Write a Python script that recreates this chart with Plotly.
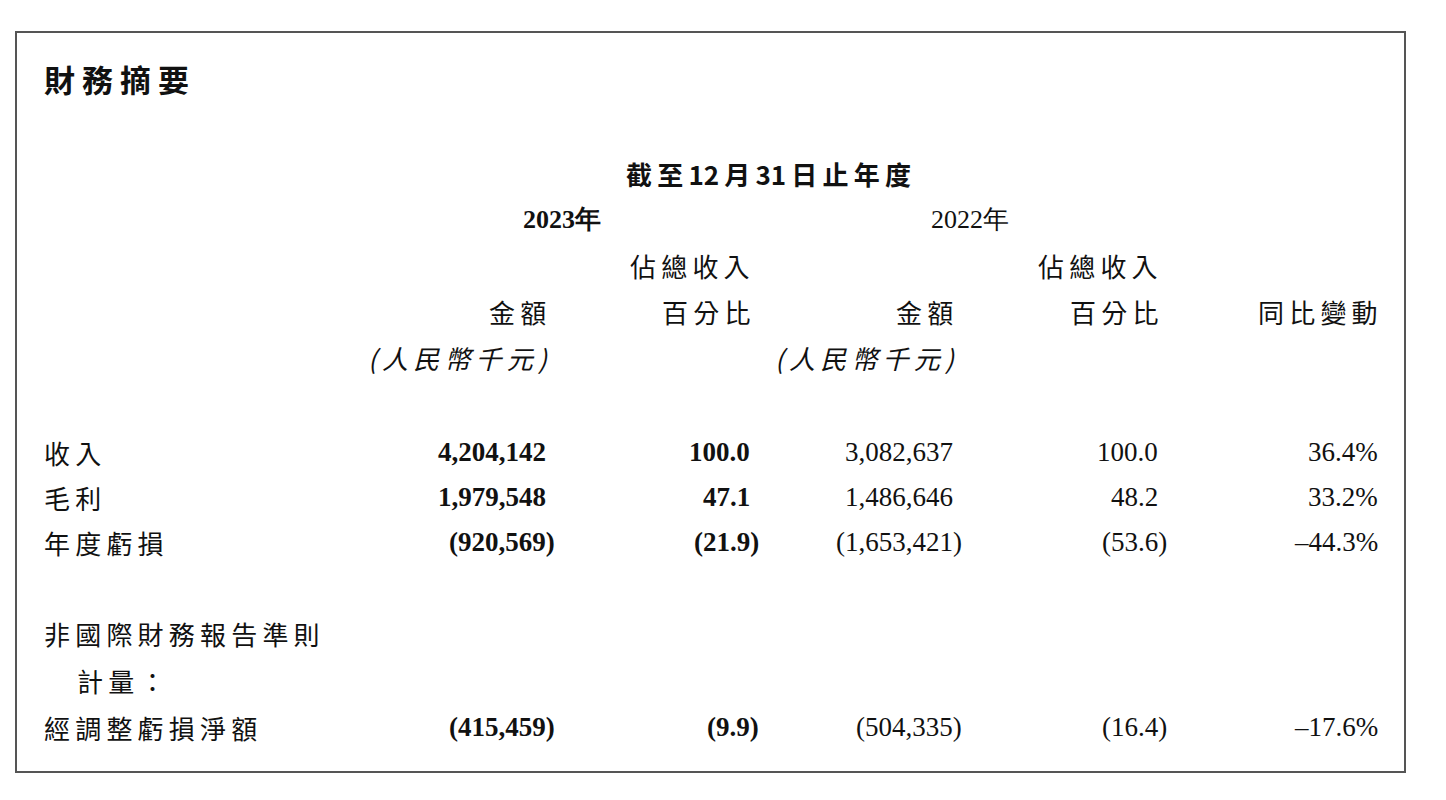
import plotly.graph_objects as go

title = "財務摘要"
period = "截至12月31日止年度"
years = ["2023年", "2022年"]
col_headers = ["金額", "佔總收入<br>百分比", "金額", "佔總收入<br>百分比", "同比變動"]
unit = "(人民幣千元)"
row_labels = ["收入", "毛利", "年度虧損", "非國際財務報告準則", "計量：", "經調整虧損淨額"]
rev_2023 = ["4,204,142", "1,979,548", "(920,569)", None, None, "(415,459)"]
pct_2023 = ["100.0", "47.1", "(21.9)", None, None, "(9.9)"]
rev_2022 = ["3,082,637", "1,486,646", "(1,653,421)", None, None, "(504,335)"]
pct_2022 = ["100.0", "48.2", "(53.6)", None, None, "(16.4)"]
yoy = ["36.4%", "33.2%", "–44.3%", None, None, "–17.6%"]

W, H = 1446, 800
CJK = "Noto Sans CJK TC"
SERIF = "Liberation Serif"
BLACK = "#111111"
OFF = 8  # page body margin compensation

def sp(s, gap="\u2009"):
    return gap.join(s)

fig = go.Figure()
fig.update_xaxes(range=[0, W], visible=False, fixedrange=True)
fig.update_yaxes(range=[H, 0], visible=False, fixedrange=True)
ann = []

def txt(x, y, t, size=26, font=CJK, anchor="left", bold=False, italic=False):
    if bold:
        t = "<b>" + t + "</b>"
    if italic:
        t = "<i>" + t + "</i>"
    ann.append(dict(x=x - OFF, y=y - OFF, xref="x", yref="y", text=t, showarrow=False,
                    xanchor=anchor, yanchor="middle",
                    font=dict(family=font, size=size, color=BLACK)))

txt(42, 78, sp(title, " "), size=31, bold=True)
txt(768, 173, "<b>截\u2009至\u200912\u2009月\u200931\u2009日\u2009止\u2009年\u2009度</b>", size=26, anchor="center")
txt(562, 219, "<b>2023年</b>", size=26, font=SERIF, anchor="center")
txt(970, 219, "2022年", size=26, font=SERIF, anchor="center")

col_right = [548, 752, 955, 1160, 1380]
bold_cols = [True, True, False, False, False]
for i, h in enumerate(col_headers):
    parts = h.split("<br>")
    if len(parts) == 2:
        txt(col_right[i], 265, sp(parts[0]), anchor="right")
        txt(col_right[i], 311, sp(parts[1]), anchor="right")
    else:
        txt(col_right[i], 311, sp(parts[0]), anchor="right")
txt(col_right[0] + 2, 357, sp(unit), anchor="right", italic=True)
txt(col_right[2] + 2, 357, sp(unit), anchor="right", italic=True)

row_y = [452, 497, 542, 633, 680, 727]
for r, lab in enumerate(row_labels):
    x0 = 75 if lab == "計量：" else 42
    txt(x0, row_y[r], sp(lab))

cols = [rev_2023, pct_2023, rev_2022, pct_2022, yoy]
for c, values in enumerate(cols):
    for r, v in enumerate(values):
        if v is None:
            continue
        x = col_right[c] + (9 if v.endswith(")") else 0)
        txt(x, row_y[r], v, size=27, font=SERIF, anchor="right", bold=bold_cols[c])

fig.update_layout(
    width=W, height=H, margin=dict(l=0, r=0, t=0, b=0),
    paper_bgcolor="white", plot_bgcolor="white", annotations=ann,
    shapes=[dict(type="rect", xref="x", yref="y", x0=16 - OFF, x1=1405 - OFF,
                 y0=32 - OFF, y1=772 - OFF,
                 line=dict(color="#555555", width=2))],
)
fig.write_html("out.html")
